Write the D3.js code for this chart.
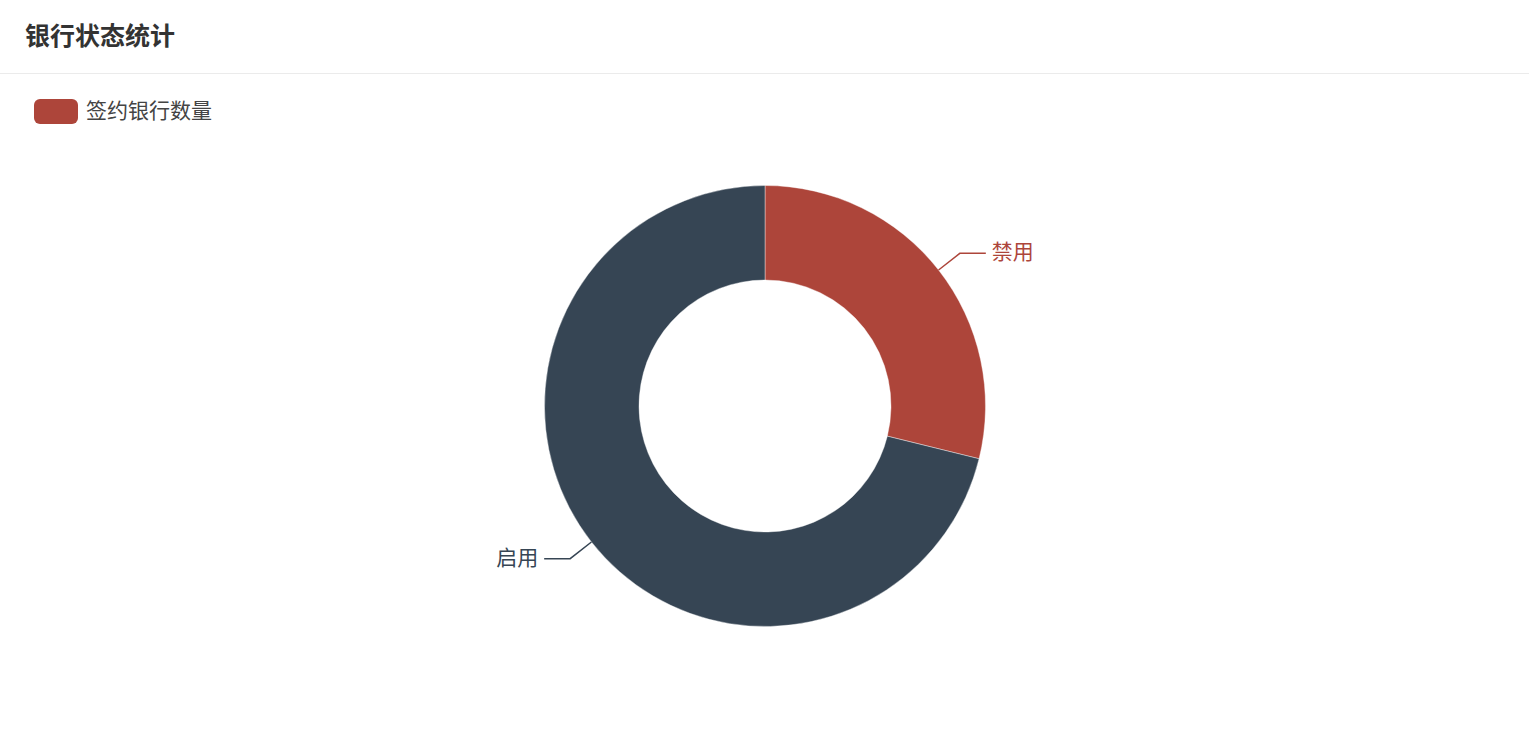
<!DOCTYPE html>
<html><head><meta charset="utf-8">
<script src="https://cdn.jsdelivr.net/npm/d3@7/dist/d3.min.js"></script>
<style>
html,body{margin:0;padding:0;background:#ffffff;}
svg{display:block;}
text{font-family:"Noto Sans CJK SC","Microsoft YaHei",sans-serif;}
</style></head>
<body><svg id="chart" width="1529" height="736"></svg>
<script>
const chartTitle = "银行状态统计";
const seriesName = "签约银行数量";
const categories = ["禁用", "启用"];
const values = [15, 37];
const colors = ["#ad453a", "#364554"];

const W = 1529, H = 736;
const svg = d3.select("#chart");

// card
svg.append("rect").attr("x", 0).attr("y", -10).attr("width", W).attr("height", H + 10)
  .attr("rx", 8).attr("fill", "#fff");

// title
svg.append("text").attr("x", 25).attr("y", 34).attr("dominant-baseline", "central")
  .attr("font-size", 25).attr("font-weight", "bold").attr("fill", "#333").text(chartTitle);
svg.append("line").attr("x1", 0).attr("x2", W).attr("y1", 73.5).attr("y2", 73.5)
  .attr("stroke", "#ebebeb").attr("stroke-width", 1);

// legend
const legend = svg.append("g").attr("transform", "translate(34,99)");
legend.append("rect").attr("width", 44).attr("height", 25).attr("rx", 6).attr("fill", colors[0]);
legend.append("text").attr("x", 52).attr("y", 9.5).attr("dominant-baseline", "central")
  .attr("font-size", 21).attr("fill", "#444").text(seriesName);

// donut
const cx = 765, cy = 406, R = 220.5, r = 126;
const color = d3.scaleOrdinal().domain(categories).range(colors);
const pie = d3.pie().sort(null).value(d => d.value);
const data = pie(categories.map((c, i) => ({ name: c, value: values[i] })));
const arc = d3.arc().innerRadius(r).outerRadius(R);
const g = svg.append("g").attr("transform", `translate(${cx},${cy})`);
g.selectAll("path.slice").data(data).enter().append("path").attr("class", "slice")
  .attr("d", arc).attr("fill", d => color(d.data.name))
  .attr("stroke", "#fff").attr("stroke-width", 0.4);

// labels
const len1 = 27, len2 = 26, gap = 6;
data.forEach(d => {
  const a = (d.startAngle + d.endAngle) / 2;
  const sx = Math.sin(a), sy = -Math.cos(a);
  const p0 = [R * sx, R * sy];
  const p1 = [(R + len1) * sx, (R + len1) * sy];
  const right = sx >= 0;
  const p2 = [p1[0] + (right ? len2 : -len2), p1[1]];
  g.append("polyline").attr("points", [p0, p1, p2].map(p => p.join(",")).join(" "))
    .attr("fill", "none").attr("stroke", color(d.data.name)).attr("stroke-width", 1.5);
  g.append("text").attr("x", p2[0] + (right ? gap : -gap)).attr("y", p2[1] - 3)
    .attr("text-anchor", right ? "start" : "end").attr("dominant-baseline", "central")
    .attr("font-size", 21).attr("fill", color(d.data.name)).text(d.data.name);
});
</script></body></html>
